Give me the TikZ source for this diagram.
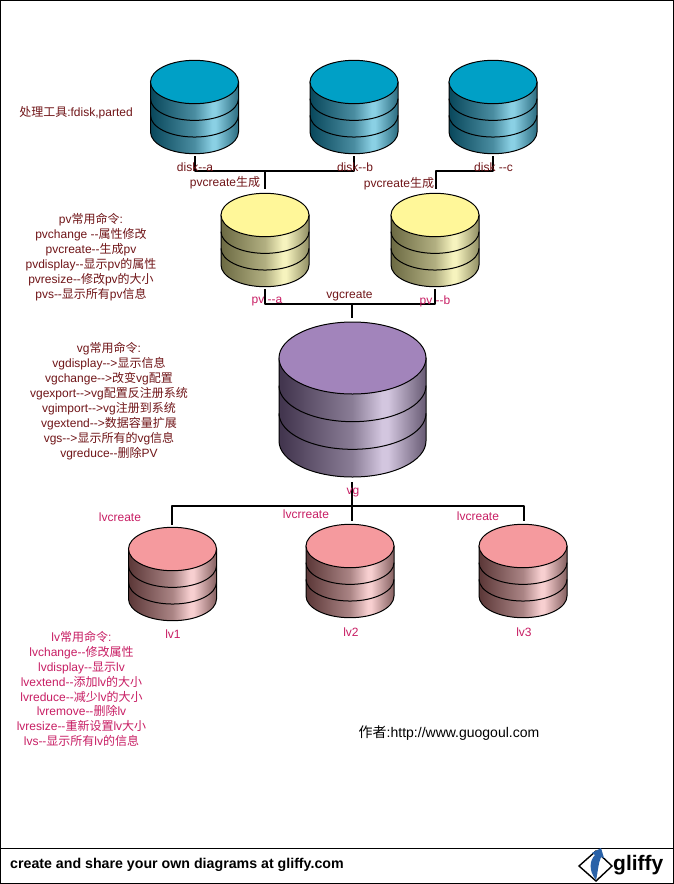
\documentclass[tikz,border=0pt]{standalone}
\usepackage{fontspec}
\setmainfont{Liberation Sans}
\newfontfamily\cjk{Noto Sans CJK SC}
\newcommand{\zh}[1]{{\cjk #1}}
\newcommand{\dd}{-{}-}
\definecolor{noteDark}{HTML}{701518}
\definecolor{notePink}{HTML}{C81E64}
\definecolor{gliffyBlue}{HTML}{2A62A8}
\definecolor{blueA}{HTML}{0B4A5E}\definecolor{blueB}{HTML}{8AD0E4}\definecolor{blueT}{HTML}{00A0C6}
\definecolor{yelA}{HTML}{6E6C45}\definecolor{yelB}{HTML}{F6F3BE}\definecolor{yelT}{HTML}{FFF799}
\definecolor{purA}{HTML}{43364F}\definecolor{purB}{HTML}{D3C6DF}\definecolor{purT}{HTML}{A284BB}
\definecolor{pinkA}{HTML}{5E3A3A}\definecolor{pinkB}{HTML}{F7CFD0}\definecolor{pinkT}{HTML}{F59A9E}
\newcommand{\makeshade}[3]{\pgfdeclarehorizontalshading{#1}{100bp}{color(0bp)=(#2);color(26bp)=(#2);color(50bp)=(#2!50!#3);color(60bp)=(#3);color(62bp)=(#3);color(75bp)=(#2!75!#3);color(100bp)=(#2!75!#3)}}
\makeshade{blueS}{blueA}{blueB}
\makeshade{yelS}{yelA}{yelB}
\makeshade{purS}{purA}{purB}
\makeshade{pinkS}{pinkA}{pinkB}
% disk: name, x, y of top centre, rx, ry, body height, shading, top colour
\newcommand{\disk}[8]{
	\coordinate (#1) at (#2,#3);
	\shade[shading=#7,draw=black,line width=1pt] (#2-#4,#3) -- ++(0,#6) arc[start angle=180,end angle=0,x radius=#4,y radius=#5] -- ++(0,-#6) -- cycle;
	\draw[line width=1pt] (#2-#4,#3+#6/3) arc[start angle=180,end angle=0,x radius=#4,y radius=#5];
	\draw[line width=1pt] (#2-#4,#3+2*#6/3) arc[start angle=180,end angle=0,x radius=#4,y radius=#5];
	\draw[line width=1pt,fill=#8] (#1) ellipse [x radius=#4,y radius=#5];
}
\tikzset{
	link/.style = {line width=2pt,line join=round},
	stem/.style = {line width=2.4pt},
	note/.style = {text=noteDark,font=\fontsize{12}{14.9}\selectfont,align=center,inner sep=0pt},
	pinknote/.style = {note,text=notePink},
}
\begin{document}
\begin{tikzpicture}[x=1pt,y=-1pt]
	\useasboundingbox (0,0) rectangle (674,884);
	\fill[white] (0,0) rectangle (674,884);
	\draw[line width=1pt] (0.5,0.5) rectangle (673.5,883.5);
	\draw[line width=1pt] (0,848) -- (674,848);

	% wires first, disks on top
	\coordinate (diskaOut) at (195,156);
	\coordinate (diskbOut) at (354,156);
	\coordinate (diskcOut) at (493,156);
	\coordinate (wireab) at (265,171);
	\coordinate (wirec) at (436,171);
	\coordinate (pvaIn) at (265,189);
	\coordinate (pvbIn) at (436,189);
	\coordinate (pvaOut) at (265,289);
	\coordinate (pvbOut) at (435,289);
	\coordinate (wirepv) at (352,304);
	\coordinate (vgIn) at (352,318);
	\coordinate (vgOut) at (352,482);
	\coordinate (wirelv) at (352,506);
	\coordinate (lvaIn) at (172,525);
	\coordinate (lvbIn) at (352,521);
	\coordinate (lvcIn) at (524,521);
	\draw[link] (diskaOut) |- (wireab) -| (diskbOut);
	\draw[stem] (wireab) -- (pvaIn);
	\draw[link] (diskcOut) |- (wirec) -- (pvbIn);
	\draw[link] (pvaOut) |- (wirepv) -| (pvbOut);
	\draw[stem] (wirepv) -- (vgIn);
	\draw[stem] (vgOut) -- (lvbIn);
	\draw[link] (lvaIn) |- (wirelv) -| (lvcIn);

	\disk{diska}{194.5}{82}{44}{21.7}{50}{blueS}{blueT}
	\disk{diskb}{354}{82}{44}{21.7}{50}{blueS}{blueT}
	\disk{diskc}{493}{82}{44}{21.7}{50}{blueS}{blueT}
	\disk{pva}{265}{215}{44}{21.7}{50}{yelS}{yelT}
	\disk{pvb}{435}{215}{44}{21.7}{50}{yelS}{yelT}
	\disk{vg}{352.5}{358}{73.5}{36}{83}{purS}{purT}
	\disk{lva}{172.5}{549}{44}{21.7}{50}{pinkS}{pinkT}
	\disk{lvb}{350}{546}{44}{21.7}{50}{pinkS}{pinkT}
	\disk{lvc}{523}{546}{44}{21.7}{50}{pinkS}{pinkT}

	\node[note] (toolnote) at (76,113) {\zh{处理工具}:fdisk,parted};
	\node[note] (diskalabel) at (195,167) {disk\dd a};
	\node[note] (diskblabel) at (355,167) {disk\dd b};
	\node[note] (diskclabel) at (493.5,167) {disk \dd c};
	\node[note] (pvcreatea) at (225,183) {pvcreate\zh{生成}};
	\node[note] (pvcreateb) at (399,184) {pvcreate\zh{生成}};
	\node[note] (pvnote) at (91,257) {pv\zh{常用命令}:\\pvchange \dd\zh{属性修改}\\pvcreate\dd\zh{生成}pv\\pvdisplay\dd\zh{显示}pv\zh{的属性}\\pvresize\dd\zh{修改}pv\zh{的大小}\\pvs\dd\zh{显示所有}pv\zh{信息}};
	\node[pinknote] (pvalabel) at (267,302) {pv \dd a};
	\node[pinknote] (pvblabel) at (435,301) {pv \dd b};
	\node[note] (vgcreate) at (349.5,296) {vgcreate};
	\node[note] (vgnote) at (109,401) {vg\zh{常用命令}:\\vgdisplay\dd\textgreater\zh{显示信息}\\vgchange\dd\textgreater\zh{改变}vg\zh{配置}\\vgexport\dd\textgreater vg\zh{配置反注册系统}\\vgimport\dd\textgreater vg\zh{注册到系统}\\vgextend\dd\textgreater\zh{数据容量扩展}\\vgs\dd\textgreater\zh{显示所有的}vg\zh{信息}\\vgreduce\dd\zh{删除}PV};
	\node[pinknote] (vglabel) at (353,493) {vg};
	\node[pinknote] (lvcreatea) at (120,517) {lvcreate};
	\node[pinknote] (lvcreateb) at (306,514) {lvcrreate};
	\node[pinknote] (lvcreatec) at (478,516) {lvcreate};
	\node[pinknote] (lvalabel) at (173,634) {lv1};
	\node[pinknote] (lvblabel) at (351,632) {lv2};
	\node[pinknote] (lvclabel) at (524,632) {lv3};
	\node[pinknote] (lvnote) at (81.5,689) {lv\zh{常用命令}:\\lvchange\dd\zh{修改属性}\\lvdisplay\dd\zh{显示}lv\\lvextend\dd\zh{添加}lv\zh{的大小}\\lvreduce\dd\zh{减少}lv\zh{的大小}\\lvremove\dd\zh{删除}lv\\lvresize\dd\zh{重新设置}lv\zh{大小}\\lvs\dd\zh{显示所有}lv\zh{的信息}};
	\node[note,text=black,font=\fontsize{14}{15}\selectfont] (authornote) at (449,733) {\zh{作者}:http://www.guogoul.com};

	% footer
	\node[anchor=west,inner sep=0pt,font=\fontsize{14.2}{15}\selectfont\bfseries] (footertext) at (10,865) {create and share your own diagrams at gliffy.com};
	\draw[line width=1.4pt,fill=white] (579,866) -- (596,851) -- (612,866) -- (596,881) -- cycle;
	\fill[gliffyBlue] (596,880) .. controls (588,870) and (590,860) .. (595,855) -- (592,853) -- (601,848) -- (604,858) -- (601,857) .. controls (598,864) and (598,872) .. (596,880);
	\node[anchor=west,inner sep=0pt,font=\fontsize{21}{21}\selectfont\bfseries] (gliffylogo) at (613,865) {gliffy};
\end{tikzpicture}
\end{document}
